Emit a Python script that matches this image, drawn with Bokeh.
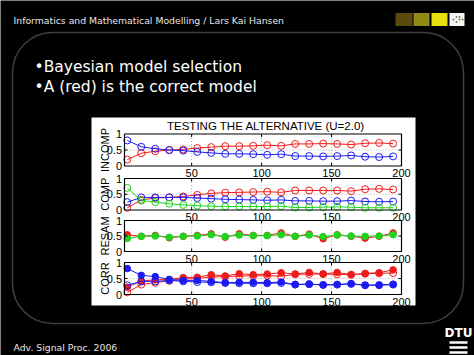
from math import pi
from bokeh.plotting import figure
from bokeh.models import Range1d, BoxAnnotation
from bokeh.core.properties import value
from bokeh.embed import file_html
from bokeh.resources import INLINE

# ---------------- data ----------------
n_vals = [4, 14, 24, 34, 44, 54, 64, 74, 84, 94, 104, 114, 124, 134, 144, 154, 164, 174, 184, 194]

incomp_red = [0.20, 0.40, 0.46, 0.50, 0.52, 0.56, 0.59, 0.62, 0.62, 0.63, 0.65, 0.63, 0.69, 0.69, 0.70, 0.69, 0.67, 0.71, 0.72, 0.70]
incomp_blue = [0.80, 0.60, 0.54, 0.50, 0.48, 0.44, 0.41, 0.38, 0.38, 0.37, 0.35, 0.37, 0.31, 0.31, 0.30, 0.31, 0.33, 0.29, 0.28, 0.30]

comp_red = [0.07, 0.32, 0.38, 0.40, 0.43, 0.48, 0.53, 0.55, 0.56, 0.57, 0.58, 0.56, 0.62, 0.62, 0.62, 0.62, 0.60, 0.66, 0.67, 0.65]
comp_blue = [0.25, 0.40, 0.40, 0.40, 0.40, 0.38, 0.36, 0.34, 0.33, 0.32, 0.31, 0.32, 0.29, 0.29, 0.28, 0.28, 0.30, 0.27, 0.26, 0.27]
comp_green = [0.70, 0.30, 0.25, 0.20, 0.16, 0.14, 0.12, 0.11, 0.11, 0.11, 0.11, 0.12, 0.08, 0.08, 0.09, 0.10, 0.09, 0.07, 0.07, 0.07]

resam_red = [0.54, 0.49, 0.52, 0.44, 0.49, 0.52, 0.57, 0.46, 0.57, 0.52, 0.52, 0.60, 0.49, 0.56, 0.41, 0.54, 0.49, 0.43, 0.49, 0.60]
resam_green = [0.42, 0.49, 0.50, 0.46, 0.49, 0.50, 0.54, 0.48, 0.53, 0.51, 0.51, 0.54, 0.49, 0.53, 0.48, 0.53, 0.50, 0.49, 0.50, 0.54]

corr_red_filled = [0.23, 0.42, 0.46, 0.47, 0.53, 0.54, 0.62, 0.58, 0.65, 0.62, 0.64, 0.68, 0.64, 0.69, 0.64, 0.69, 0.62, 0.66, 0.68, 0.77]
corr_red_open = [0.07, 0.31, 0.37, 0.43, 0.48, 0.50, 0.55, 0.56, 0.58, 0.58, 0.59, 0.57, 0.63, 0.64, 0.64, 0.63, 0.62, 0.65, 0.66, 0.67]
corr_blue_filled = [0.81, 0.60, 0.56, 0.47, 0.44, 0.44, 0.41, 0.37, 0.38, 0.38, 0.37, 0.39, 0.31, 0.33, 0.30, 0.31, 0.34, 0.29, 0.30, 0.32]
corr_blue_open = [0.29, 0.41, 0.41, 0.44, 0.41, 0.39, 0.38, 0.36, 0.35, 0.35, 0.35, 0.36, 0.31, 0.32, 0.30, 0.31, 0.33, 0.29, 0.29, 0.31]

x_ticks = [50, 100, 150, 200]
x_tick_labels = ["50", "100", "150", "200"]
y_ticks = [0, 0.5, 1]
y_tick_labels = ["0", "0.5", "1"]
panel_labels = ["INCOMP", "COMP", "RESAM", "CORR"]
chart_title = "TESTING THE ALTERNATIVE (U=2.0)"
header_text = "Informatics and Mathematical Modelling / Lars Kai Hansen"
footer_text = "Adv. Signal Proc. 2006"
bullets = ["\u2022Bayesian model selection", "\u2022A (red) is the correct model"]

# ---------------- styles ----------------
RED, BLUE, GREEN = "#f01c1c", "#1c1cf0", "#1ed41e"
W, H = 474, 355
X0, X1 = 2, 200
PL, PR = 124, 401
panel_tb = [(133.5, 165.5), (178, 209.5), (220, 251), (262, 294)]
MFONT = value("Liberation Sans")
SFONT = value("DejaVu Sans")

p = figure(width=W, height=H, x_range=Range1d(0, W), y_range=Range1d(H, 0),
           output_backend="svg", toolbar_location=None, min_border=0,
           x_axis_location=None, y_axis_location=None, title=None)
p.grid.visible = False
p.outline_line_color = None
p.background_fill_color = "black"
p.border_fill_color = "black"

# slide decorations
p.text(x=[13], y=[20], text=[header_text], text_font=SFONT, text_font_size="9.3px",
       text_color="#e6e6e6", text_baseline="middle", text_align="left")
p.text(x=[13], y=[347], text=[footer_text], text_font=SFONT, text_font_size="9.3px",
       text_color="#e6e6e6", text_baseline="middle", text_align="left")
p.text(x=[34, 34], y=[66, 86], text=bullets, text_font=SFONT, text_font_size="15.5px",
       text_color="white", text_baseline="alphabetic", text_align="left")
p.quad(left=[395, 413, 431, 449], right=[412, 429, 447, 464], top=[12.5] * 4, bottom=[25.5] * 4,
       fill_color=["#5a4a0e", "#8f8a14", "#e6e010", "#f4f4f4"], line_color=None)
p.scatter(x=[453, 456, 459, 456, 462, 459], y=[19, 16.5, 19, 21.5, 19, 16.5], size=1.8,
          marker="circle", fill_color="#6b7b3b", line_color=None)
p.add_layout(BoxAnnotation(left=12, right=463, top=32, bottom=323, fill_alpha=0,
                           line_color="#d0d0d0", line_width=1.5, border_radius=40))
p.text(x=[458], y=[332], text=["DTU"], text_font=SFONT, text_font_size="12px", text_font_style="bold",
       text_color="white", text_baseline="middle", text_align="center")
p.segment(x0=[449, 449, 449], y0=[342, 347, 352], x1=[467, 467, 467], y1=[342, 347, 352],
          line_color="white", line_width=2.5)

# white figure area
p.quad(left=[91], right=[415], top=[117], bottom=[305], fill_color="white", line_color=None)
p.text(x=[265.5], y=[125], text=[chart_title], text_font=MFONT, text_font_size="11.5px",
       text_color="black", text_baseline="middle", text_align="center")

panels = [
    [(incomp_red, RED, False), (incomp_blue, BLUE, False)],
    [(comp_red, RED, False), (comp_blue, BLUE, False), (comp_green, GREEN, False)],
    [(resam_red, RED, True), (resam_green, GREEN, True)],
    [(corr_red_open, RED, False), (corr_red_filled, RED, True),
     (corr_blue_open, BLUE, False), (corr_blue_filled, BLUE, True)],
]

sx = (X1 - X0) / (PR - PL)
for i, ((T, B), series, label) in enumerate(zip(panel_tb, panels, panel_labels)):
    sy = 1.0 / (B - T)
    xn, yn = f"x{i}", f"y{i}"
    p.extra_x_ranges[xn] = Range1d(X0 - PL * sx, X0 + (W - PL) * sx)
    p.extra_y_ranges[yn] = Range1d(1 - (H - T) * sy, 1 + T * sy)
    kw = dict(x_range_name=xn, y_range_name=yn)

    # grid
    gx = [t for t in x_ticks if t < X1]
    p.segment(x0=gx, y0=[0] * len(gx), x1=gx, y1=[1] * len(gx), line_color="#9a9a9a",
              line_width=0.8, line_dash="1 2", **kw)
    p.segment(x0=[X0], y0=[0.5], x1=[X1], y1=[0.5], line_color="#9a9a9a",
              line_width=0.8, line_dash="1 2", **kw)

    for ys, col, filled in series:
        p.line(n_vals, ys, line_color=col, line_width=1, **kw)
        p.scatter(n_vals, ys, marker="circle", size=6.5 if filled else 7,
                  line_color=col, line_width=1,
                  fill_color=col if filled else None, **kw)

    # box and ticks
    p.quad(left=[X0], right=[X1], bottom=[0], top=[1], fill_color=None,
           line_color="black", line_width=1.2, **kw)
    p.ray(x=[X0], y=[0.5], length=3, length_units="screen", angle=0, line_color="black", **kw)
    p.ray(x=[X1], y=[0.5], length=3, length_units="screen", angle=pi, line_color="black", **kw)
    p.ray(x=gx, y=[0] * len(gx), length=3, length_units="screen", angle=pi / 2, line_color="black", **kw)
    p.ray(x=gx, y=[1] * len(gx), length=3, length_units="screen", angle=-pi / 2, line_color="black", **kw)

    # tick labels
    p.text(x=x_ticks, y=[-7 * sy] * len(x_ticks), text=x_tick_labels, text_font=MFONT,
           text_font_size="11px", text_color="black", text_align="center",
           text_baseline="middle", **kw)
    p.text(x=[X0 - 2.5 * sx] * len(y_ticks), y=y_ticks, text=y_tick_labels, text_font=MFONT,
           text_font_size="11px", text_color="black", text_align="right",
           text_baseline="middle", **kw)
    p.text(x=[X0 - 20 * sx], y=[0.5], text=[label], text_font=MFONT, text_font_size="11px",
           text_color="black", text_align="center", text_baseline="middle", angle=pi / 2, **kw)

open("out.html", "w").write(file_html(p, INLINE))
